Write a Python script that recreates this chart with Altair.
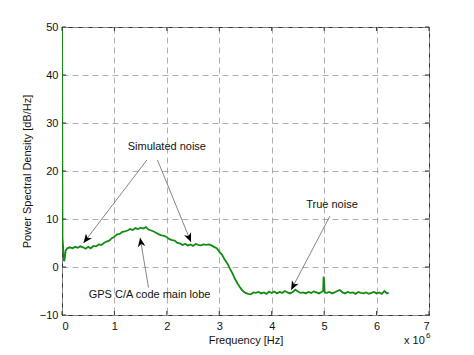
import math
import altair as alt
import pandas as pd

# ---- data (frequency in units of 10^6 Hz) ----
freq = [0.0, 0.005, 0.01, 0.02, 0.03, 0.04, 0.05, 0.07,
        0.10, 0.15, 0.20, 0.25, 0.30, 0.35, 0.40, 0.45, 0.50, 0.55,
        0.60, 0.65, 0.70, 0.75, 0.80, 0.85, 0.90, 0.95, 1.00, 1.05,
        1.10, 1.15, 1.20, 1.25, 1.30, 1.35, 1.40, 1.45, 1.50, 1.55,
        1.60, 1.65, 1.70, 1.75, 1.80, 1.85, 1.90, 1.95, 2.00, 2.05,
        2.10, 2.15, 2.20, 2.25, 2.30, 2.35, 2.40, 2.45, 2.50, 2.55,
        2.60, 2.65, 2.70, 2.75, 2.80, 2.85, 2.90, 2.95, 3.00, 3.05,
        3.10, 3.15, 3.20, 3.25, 3.30, 3.35, 3.40, 3.45, 3.50, 3.55,
        3.60, 3.65, 3.70, 3.75, 3.80, 3.85, 3.90, 3.95, 4.00, 4.05,
        4.10, 4.15, 4.20, 4.25, 4.30, 4.35, 4.40, 4.45, 4.50, 4.55,
        4.60, 4.65, 4.70, 4.75, 4.80, 4.85, 4.90, 4.95, 4.98, 4.99,
        5.00, 5.01, 5.05, 5.10, 5.15, 5.20, 5.25, 5.30, 5.35, 5.40,
        5.45, 5.50, 5.55, 5.60, 5.65, 5.70, 5.75, 5.80, 5.85, 5.90,
        5.95, 6.00, 6.05, 6.10, 6.15, 6.20, 6.23]
psd = [52.0, 30.0, 6.0, 4.4, 2.0, 1.2, 1.6, 3.4,
       3.9, 4.1, 3.9, 4.2, 4.0, 4.3, 4.1, 3.8, 4.2, 3.9,
       4.4, 4.3, 4.7, 4.6, 5.0, 5.3, 5.5, 6.0, 6.3, 6.8,
       6.9, 7.3, 7.4, 7.6, 7.9, 7.7, 8.1, 7.9, 8.2, 8.0,
       8.3, 7.8, 7.6, 7.4, 7.1, 6.8, 6.6, 6.5, 6.2, 5.8,
       5.6, 5.5, 5.0, 4.9, 4.6, 4.8, 4.5, 4.7, 4.4, 4.8,
       4.6, 4.5, 4.7, 4.6, 4.7, 4.5, 4.2, 3.9, 3.2, 2.6,
       1.6, 0.8, -0.3, -1.3, -2.5, -3.5, -4.3, -5.0, -5.4, -5.6,
       -5.7, -5.3, -5.4, -5.2, -5.5, -5.3, -5.6, -5.1, -5.4, -5.1,
       -5.5, -5.2, -5.4, -5.0, -5.3, -5.5, -5.2, -4.7, -5.1, -5.4,
       -5.3, -5.5, -5.2, -5.4, -5.1, -5.3, -5.5, -5.2, -5.0, -2.0,
       -3.0, -5.3, -5.4, -5.2, -5.5, -5.3, -5.0, -4.8, -5.3, -5.5,
       -5.2, -5.4, -5.3, -5.6, -5.2, -5.4, -5.5, -5.3, -5.6, -5.4,
       -5.2, -5.5, -5.3, -5.6, -5.0, -5.5, -5.3]

x_ticks = [0, 1, 2, 3, 4, 5, 6, 7]
y_ticks = [-10, 0, 10, 20, 30, 40, 50]

label_text = ["Simulated noise", "GPS C/A code main lobe", "True noise"]
label_x = [2.0, 1.67, 5.15]
label_y = [25.1, -5.9, 13.0]

arrow_x1 = [1.62, 1.82, 1.65, 5.11]
arrow_y1 = [22.3, 22.3, -4.3, 10.6]
arrow_x2 = [0.41, 2.46, 1.49, 4.37]
arrow_y2 = [5.0, 5.2, 6.1, -4.8]

# ---- layout ----
W, H = 367, 288
X_DOM, Y_DOM = [0, 7], [-10, 50]
FONT = "Liberation Sans"
GREEN = "#158a15"

xs = alt.Scale(domain=X_DOM, nice=False, zero=False)
ys = alt.Scale(domain=Y_DOM, nice=False, zero=False)

df = pd.DataFrame({"f": freq, "p": psd})
ticks_x = pd.DataFrame({"t": x_ticks})
ticks_y = pd.DataFrame({"t": y_ticks})
labels = pd.DataFrame({"text": label_text, "x": label_x, "y": label_y})

px_per_x = W / (X_DOM[1] - X_DOM[0])
px_per_y = H / (Y_DOM[1] - Y_DOM[0])
angles = []
for a, b, c, d in zip(arrow_x1, arrow_y1, arrow_x2, arrow_y2):
    dx = (c - a) * px_per_x
    dy = -(d - b) * px_per_y
    angles.append(math.degrees(math.atan2(dx, -dy)) % 360)
arrows = pd.DataFrame({"x1": arrow_x1, "y1": arrow_y1, "x2": arrow_x2,
                       "y2": arrow_y2, "ang": angles})

line = alt.Chart(df).mark_line(color=GREEN, strokeWidth=1.8, clip=True).encode(
    x=alt.X("f:Q", scale=xs,
            axis=alt.Axis(values=x_ticks, title="Frequency [Hz]", format="d",
                          grid=True, labelPadding=5, titlePadding=3)),
    y=alt.Y("p:Q", scale=ys,
            axis=alt.Axis(values=y_ticks, title="Power Spectral Density [dB/Hz]",
                          format="d", grid=True, labelPadding=4, titlePadding=7)),
    order="f:Q",
)

shafts = alt.Chart(arrows).mark_rule(color="#666666", strokeWidth=0.8).encode(
    x=alt.X("x1:Q", scale=xs), y=alt.Y("y1:Q", scale=ys),
    x2="x2:Q", y2="y2:Q",
)

heads = alt.Chart(arrows).mark_point(
    shape="M0,0 L0.42,1 L0,0.72 L-0.42,1 Z", filled=True, color="#000000",
    size=324, opacity=1,
).encode(
    x=alt.X("x2:Q", scale=xs), y=alt.Y("y2:Q", scale=ys),
    angle=alt.Angle("ang:Q", scale=None),
)

texts = alt.Chart(labels).mark_text(font=FONT, fontSize=11, color="#111111").encode(
    x=alt.X("x:Q", scale=xs), y=alt.Y("y:Q", scale=ys), text="text:N",
)

tick_col = "#333333"
tb = alt.Chart(ticks_x).mark_rule(color=tick_col).encode(
    x=alt.X("t:Q", scale=xs), y=alt.value(H), y2=alt.value(H - 4))
tt = alt.Chart(ticks_x).mark_rule(color=tick_col).encode(
    x=alt.X("t:Q", scale=xs), y=alt.value(0), y2=alt.value(4))
tl = alt.Chart(ticks_y).mark_rule(color=tick_col).encode(
    y=alt.Y("t:Q", scale=ys), x=alt.value(0), x2=alt.value(4))
tr = alt.Chart(ticks_y).mark_rule(color=tick_col).encode(
    y=alt.Y("t:Q", scale=ys), x=alt.value(W - 4), x2=alt.value(W))

mult = alt.Chart(pd.DataFrame({"s": ["x 10"]})).mark_text(
    font=FONT, fontSize=11, color="#111111", align="left", baseline="middle"
).encode(x=alt.value(342), y=alt.value(314), text="s:N")
expo = alt.Chart(pd.DataFrame({"s": ["6"]})).mark_text(
    font=FONT, fontSize=8, color="#111111", align="left", baseline="middle"
).encode(x=alt.value(364), y=alt.value(309), text="s:N")

chart = alt.layer(line, shafts, heads, texts, tb, tt, tl, tr, mult, expo).properties(
    width=W, height=H,
    autosize=alt.AutoSizeParams(type="none"),
    padding={"left": 54, "top": 19, "right": 37, "bottom": 32},
).configure_view(stroke="#333333", strokeWidth=1).configure_axis(
    domain=False, ticks=False, gridDash=[6, 4], gridColor="#9a9a9a", gridWidth=0.8,
    labelFont=FONT, titleFont=FONT, labelFontSize=11, titleFontSize=11,
    labelColor="#111111", titleColor="#111111", titleFontWeight="normal",
)

chart.save("out.html", embed_options={"renderer": "svg", "actions": False})
